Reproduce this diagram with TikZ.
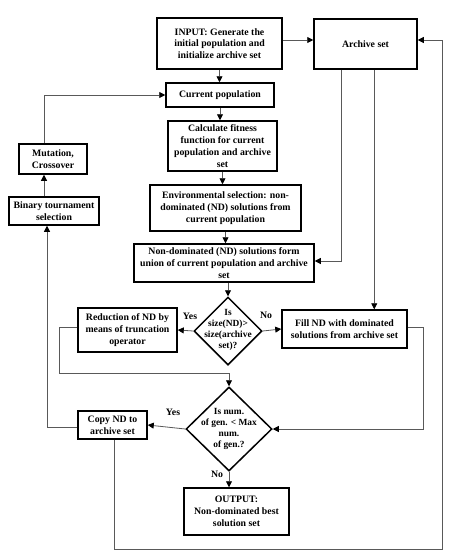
\documentclass[tikz,border=0pt]{standalone}
\usepackage{fontspec}
\setmainfont{Liberation Serif}
\usetikzlibrary{arrows.meta,shapes.geometric,calc}
\tikzset{
  box/.style={draw=black,line width=1.5pt,rectangle,align=center,inner sep=1pt,
    font=\bfseries\fontsize{9.8}{11.8}\selectfont},
  dia/.style={draw=black,line width=1.5pt,diamond,inner sep=0pt,shape aspect=1},
  dtext/.style={align=center,inner sep=0pt,font=\bfseries\fontsize{9.4}{11}\selectfont},
  lbl/.style={inner sep=0pt,font=\bfseries\fontsize{9.8}{11.8}\selectfont},
  conn/.style={draw=black!65,line width=0.8pt},
  arr/.style={conn,-{Triangle[length=6pt,width=6pt,color=black]}}
}
\begin{document}
\begin{tikzpicture}[x=1pt,y=-1pt]
\useasboundingbox (0,0) rectangle (474,557);
\node[box,minimum width=125pt,minimum height=51pt] (input) at (219.5,43.5) {INPUT: Generate the\\initial population and\\initialize archive set};
\node[box,minimum width=103pt,minimum height=50pt] (archive) at (365.5,44) {Archive set};
\node[box,minimum width=108pt,minimum height=24pt] (curpop) at (220,95) {Current population};
\node[box,minimum width=109pt,minimum height=50pt] (calc) at (222.5,146) {Calculate fitness\\function for current\\population and archive\\set};
\node[box,minimum width=68pt,minimum height=30pt] (mut) at (53,159) {Mutation,\\Crossover};
\node[box,minimum width=151pt,minimum height=46pt] (env) at (225.5,208) {Environmental selection: non-\\dominated (ND) solutions from\\current population};
\node[box,minimum width=90pt,minimum height=28pt] (bin) at (54,211) {Binary tournament\\selection};
\node[box,minimum width=180pt,minimum height=38pt] (nd) at (224,263) {Non-dominated (ND) solutions form\\union of current population and archive\\set};
\node[dia,minimum width=68pt,minimum height=68pt] (d1) at (228,331) {};
\node[dtext] (d1t) at (228,330) {Is\\size(ND)>\\size(archive\\set)?};
\node[box,minimum width=99pt,minimum height=44pt] (red) at (127.5,330) {Reduction of ND by\\means of truncation\\operator};
\node[box,minimum width=125pt,minimum height=38pt] (fill) at (344.5,329) {Fill ND with dominated\\solutions from archive set};
\node[dia,minimum width=86pt,minimum height=84pt] (d2) at (229,429) {};
\node[dtext] (d2t) at (229,428.5) {Is num.\\of gen. < Max\\num.\\of gen.?};
\node[box,minimum width=69pt,minimum height=28pt] (copy) at (112.5,425) {Copy ND to\\archive set};
\node[box,minimum width=105pt,minimum height=47pt] (out) at (236.5,511.5) {OUTPUT:\\Non-dominated best\\solution set};
\node[lbl] (y1) at (190,316) {Yes};
\node[lbl] (n1) at (266,315) {No};
\node[lbl] (y2) at (173,412) {Yes};
\node[lbl] (n2) at (217,474) {No};
\coordinate (br) at (442,549);
\coordinate (a1) at ($(archive.south west)+(28,0)$);
\coordinate (a2) at ($(archive.south west)+(61,0)$);
\coordinate (ie) at ([yshift=3.5pt]input.east);
% connectors
\draw[arr] (ie) -- (ie -| archive.west);
\draw[arr] (input.south) -- (input.south |- curpop.north);
\draw[arr] (curpop.south) -- (curpop.south |- calc.north);
\draw[arr] (calc.south) -- (calc.south |- env.north);
\draw[arr] (env.south) -- (env.south |- nd.north);
\draw[arr] (a1) |- ([yshift=2pt]nd.east);
\draw[arr] (a2) -- (a2 |- fill.north);
\draw[arr] (d1.north |- nd.south) -- (d1.north);
\draw[arr] (d1.west) -- (red.east);
\draw[arr] (d1.east) -- (fill.west);
\draw[arr] ([yshift=3pt]red.west) -- ++(-18,0) |- ($(d2.north)+(0,-13)$) -- (d2.north);
\draw[arr] ([yshift=2pt]fill.east) -- ++(16,0) |- (d2.east);
\draw[arr] (d2.west) -- (copy.east);
\draw[arr] (d2.south) -- (d2.south |- out.north);
\draw[arr] ([yshift=-2pt]copy.west) -| ([xshift=-7pt]bin.south);
\draw[arr] ([xshift=-9pt]mut.south |- bin.north) -- ([xshift=-9pt]mut.south);
\draw[arr] ([xshift=-9pt]mut.north) |- (curpop.west);
\draw[arr] ([xshift=1.5pt]copy.south) |- (br) |- ([yshift=4pt]archive.east);
\end{tikzpicture}
\end{document}
